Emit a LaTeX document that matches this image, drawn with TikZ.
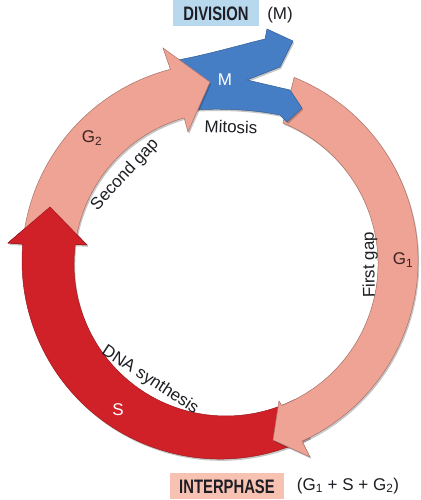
\documentclass[tikz,border=0pt]{standalone}
\usepackage{fontspec}
\setmainfont{Liberation Sans}
\usetikzlibrary{shadows,calc}
\definecolor{phasepink}{RGB}{238,163,148}
\definecolor{phasered}{RGB}{208,33,40}
\definecolor{mitblue}{RGB}{70,126,198}
\definecolor{divfill}{RGB}{184,216,238}
\definecolor{intfill}{RGB}{247,194,178}
\definecolor{inktxt}{RGB}{30,30,36}
\definecolor{gtxt}{RGB}{60,35,35}
\begin{document}
\begin{tikzpicture}[x=1pt,y=1pt,
  softshadow/.style={drop shadow={shadow xshift=1.2pt,shadow yshift=-1.8pt,opacity=0.22,fill=black}},
  pinkarrow/.style={fill=phasepink, draw=phasepink!70!black, line width=0.5pt},
  redarrow/.style={fill=phasered, draw=phasered!75!black, line width=0.5pt},
  bluearrow/.style={fill=mitblue, draw=mitblue!75!black, line width=0.5pt},
  lab/.style={font=\fontsize{17}{20}\selectfont, text=inktxt, inner sep=0pt},
  boxlab/.style={font=\fontsize{19.5}{22}\selectfont\bfseries, text=inktxt, inner sep=0pt},
]
\useasboundingbox (0,0) rectangle (420,500);
\fill[white] (0,0) rectangle (420,500);
\coordinate (Co) at (220,239);
\coordinate (Ci) at (226,236);

% S : DNA synthesis
\path[redarrow, softshadow] ($(Co)+(-63:198)$) arc[start angle=-63, end angle=-184.9, radius=198]
  -- (8,257) -- (50,293) -- (87,255) -- ($(Ci)+(-187.4:152)$)
  arc[start angle=-187.4, end angle=-63, radius=152] -- cycle;

% G1 : first gap
\path[pinkarrow, softshadow] ($(Co)+(68:198)$) arc[start angle=68, end angle=-65.5, radius=198]
  -- (310,43) -- (273,60) -- (279,99) -- ($(Ci)+(-68.5:152)$)
  arc[start angle=-68.5, end angle=68, radius=152] -- cycle;

% M : mitosis
\path[bluearrow, softshadow] (178,440) .. controls (210,446) and (240,455) .. (265,461)
  -- (267,471) -- (293,459) -- (280,433) -- (247,420) -- (290,410) -- (302,392)
  -- (287,378) -- (280,385) .. controls (255,390) and (225,392) .. (192,390) -- cycle;

% G2 : second gap
\path[pinkarrow, softshadow] ($(Co)+(172:198)$) arc[start angle=172, end angle=104.5, radius=198]
  -- (163,452) -- (210,418) -- (188,368) -- ($(Ci)+(106:152)$)
  arc[start angle=106, end angle=172, radius=152] -- cycle;

% S arrow head on top of G2 tail
\fill[phasered] (22.5,253) -- (22.7,255.9) -- (8,257) -- (50,293) -- (87,255) -- (75.3,255.6) -- (74.8,252) -- cycle;
\draw[phasered!75!black, line width=0.5pt] (22.7,255.9) -- (8,257) -- (50,293) -- (87,255) -- (75.3,255.6);

% labels
\node[lab, text=gtxt] (g2) at (92,362) {G\textsubscript{2}};
\node[lab, rotate=47] (secgap) at (125,325) {Second gap};
\node[lab, rotate=-2] (mitosis) at (231,373) {Mitosis};
\node[lab, text=white] (mlab) at (225,420) {M};
\node[lab, text=gtxt] (g1) at (403,240) {G\textsubscript{1}};
\node[lab, rotate=91] (firstgap) at (370,235) {First gap};
\node[lab, text=white] (slab) at (118,90) {S};
\node[lab, rotate=-33] (dna) at (150,120) {DNA synthesis};

\node[boxlab, fill=divfill, minimum width=86pt, minimum height=26pt] (divbox) at (216,486.5) {\scalebox{0.76}[1]{DIVISION}};
\node[lab] (mparen) at (280,485) {(M)};
\node[boxlab, fill=intfill, minimum width=114pt, minimum height=26pt] (intbox) at (227,13.5) {\scalebox{0.76}[1]{INTERPHASE}};
\node[lab] (ipar) at (348,14) {(G\textsubscript{1} + S + G\textsubscript{2})};
\end{tikzpicture}
\end{document}
